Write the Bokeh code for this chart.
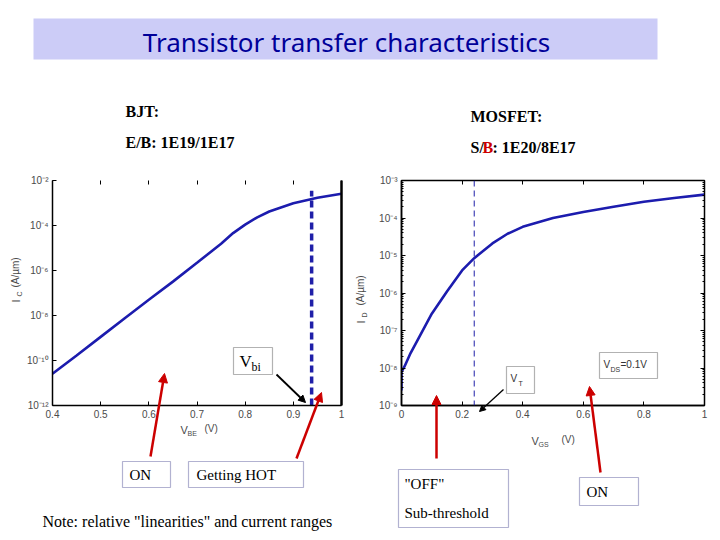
import math
from bokeh.plotting import figure
from bokeh.layouts import column, row
from bokeh.models import (Label, Arrow, NormalHead, FixedTicker, LogAxis, LinearAxis,
                          Range1d, BoxAnnotation, Span, GridBox)
from bokeh.embed import file_html
from bokeh.resources import INLINE

# ---------------- data ----------------
bjt_vbe = [0.40, 0.45, 0.50, 0.55, 0.60, 0.65, 0.70, 0.75, 0.775, 0.80, 0.825, 0.85,
           0.90, 0.95, 1.00]
bjt_ic = [2.57e-11, 1.66e-10, 1.12e-9, 7.6e-9, 5.0e-8, 3.2e-7, 2.2e-6, 1.55e-5, 4.6e-5,
          1.1e-4, 2.3e-4, 4.2e-4, 9.8e-4, 1.7e-3, 2.6e-3]
bjt_vbi = 0.938
bjt_vbi_span = [1e-12, 3.5e-3]

mos_vgs = [0.0, 0.0, 0.01, 0.03, 0.05, 0.10, 0.15, 0.20, 0.24, 0.30, 0.35, 0.40, 0.50,
           0.60, 0.70, 0.80, 0.90, 1.00]
mos_id = [2.5e-9, 7.9e-9, 1.1e-8, 2.5e-8, 5.0e-8, 2.8e-7, 1.1e-6, 4.0e-6, 8.5e-6, 2.1e-5,
          3.8e-5, 5.8e-5, 1.0e-4, 1.45e-4, 2.0e-4, 2.7e-4, 3.4e-4, 4.2e-4]
mos_vt = 0.24

bjt_xticks = [0.4, 0.5, 0.6, 0.7, 0.8, 0.9, 1.0]
bjt_xlabels = ["0.4", "0.5", "0.6", "0.7", "0.8", "0.9", "1"]
bjt_yticks = [1e-12, 1e-10, 1e-8, 1e-6, 1e-4, 1e-2]
bjt_ylabels = ["10⁻¹²", "10⁻¹⁰", "10⁻⁸", "10⁻⁶", "10⁻⁴", "10⁻²"]
mos_xticks = [0.0, 0.2, 0.4, 0.6, 0.8, 1.0]
mos_xlabels = ["0", "0.2", "0.4", "0.6", "0.8", "1"]
mos_yticks = [1e-9, 1e-8, 1e-7, 1e-6, 1e-5, 1e-4, 1e-3]
mos_ylabels = ["10⁻⁹", "10⁻⁸", "10⁻⁷", "10⁻⁶", "10⁻⁵", "10⁻⁴", "10⁻³"]

CURVE = "#1c1cae"
SERIF = "Liberation Serif"
SANS = "Liberation Sans"
TICKC = "#4a4a4a"
RED = "#cc0000"
NAVY = "#000066"


def style_axis(ax, size="10px"):
    ax.major_label_text_font = SANS
    ax.major_label_text_font_size = size
    ax.major_label_text_color = TICKC
    ax.axis_line_color = "black"
    ax.axis_line_width = 1.5
    ax.major_tick_in = 4
    ax.major_tick_out = 0
    ax.minor_tick_in = 0
    ax.minor_tick_out = 0
    ax.major_tick_line_color = "black"
    ax.major_label_standoff = 4


def blank_axis(ax, ticks):
    ax.major_label_overrides = {t: "" for t in ticks}
    ax.major_label_standoff = 0
    ax.major_tick_in = 4
    ax.major_tick_out = 0
    ax.minor_tick_out = 0


# ---------------- header ----------------
hdr = figure(width=720, height=165, x_range=Range1d(0, 720), y_range=Range1d(0, 165),
             output_backend="svg", toolbar_location=None, min_border=0,
             x_axis_location=None, y_axis_location=None, outline_line_color=None)
hdr.grid.visible = False
hdr.add_layout(BoxAnnotation(left=33, right=657, bottom=106, top=147,
                             fill_color="#ccccf7", fill_alpha=1, line_color=None))
hdr.add_layout(Label(x=346, y=124, text="Transistor transfer characteristics",
                     text_font="Noto Sans", text_font_size="26px", text_color="#000099",
                     text_align="center", text_baseline="middle"))
for (x, y, t, c) in [(125, 54, "BJT:", "black"), (125, 23, "E/B: 1E19/1E17", "black"),
                     (470, 49, "MOSFET:", "black"), (470, 18, "S/", "black"),
                     (482, 18, "B", RED), (492, 18, ": 1E20/8E17", "black")]:
    hdr.add_layout(Label(x=x, y=y, text=t, text_font=SERIF, text_font_size="16px",
                         text_font_style="bold", text_color=c, text_align="left",
                         text_baseline="middle"))

# ---------------- BJT plot ----------------
p1 = figure(width=355, height=375, y_axis_type="log", x_range=Range1d(0.4, 1.0),
            y_range=Range1d(1e-12, 1e-2), output_backend="svg", toolbar_location=None,
            min_border_left=52, min_border_right=14, min_border_top=15,
            min_border_bottom=135, outline_line_color=None)
p1.grid.visible = False
p1.xaxis.ticker = FixedTicker(ticks=bjt_xticks)
p1.xaxis.major_label_overrides = dict(zip(bjt_xticks, bjt_xlabels))
p1.yaxis.ticker = FixedTicker(ticks=bjt_yticks)
p1.yaxis.major_label_overrides = dict(zip(bjt_yticks, bjt_ylabels))
style_axis(p1.xaxis[0])
style_axis(p1.yaxis[0])
ra = LogAxis(ticker=FixedTicker(ticks=bjt_yticks))
blank_axis(ra, bjt_yticks)
ra.axis_line_width = 2.5
ra.major_tick_in = 0
p1.add_layout(ra, "right")
ta = LinearAxis(ticker=FixedTicker(ticks=bjt_xticks))
blank_axis(ta, bjt_xticks)
ta.axis_line_color = None
p1.add_layout(ta, "above")

p1.line(bjt_vbe, bjt_ic, line_color=CURVE, line_width=2.6)
p1.line([bjt_vbi, bjt_vbi], bjt_vbi_span, line_color="#1f1fa8", line_width=3.5,
        line_dash="7 4")

# ---------------- MOSFET plot ----------------
p2 = figure(width=365, height=375, y_axis_type="log", x_range=Range1d(0.0, 1.0),
            y_range=Range1d(1e-9, 1e-3), output_backend="svg", toolbar_location=None,
            min_border_left=46, min_border_right=16, min_border_top=15,
            min_border_bottom=122, outline_line_color="black", outline_line_width=1.5)
p2.grid.visible = False
minor = [m * 10.0 ** e for e in range(-9, -3) for m in range(2, 10)]
p2.xaxis.ticker = FixedTicker(ticks=mos_xticks)
p2.xaxis.major_label_overrides = dict(zip(mos_xticks, mos_xlabels))
p2.yaxis.ticker = FixedTicker(ticks=mos_yticks, minor_ticks=minor)
p2.yaxis.major_label_overrides = dict(zip(mos_yticks, mos_ylabels))
style_axis(p2.xaxis[0])
style_axis(p2.yaxis[0])
p2.yaxis.minor_tick_in = 2
ra2 = LogAxis(ticker=FixedTicker(ticks=mos_yticks, minor_ticks=minor))
blank_axis(ra2, mos_yticks)
ra2.minor_tick_in = 2
p2.add_layout(ra2, "right")
ta2 = LinearAxis(ticker=FixedTicker(ticks=mos_xticks))
blank_axis(ta2, mos_xticks)
p2.add_layout(ta2, "above")

p2.line(mos_vgs, mos_id, line_color=CURVE, line_width=2.6)
p2.add_layout(Span(location=mos_vt, dimension="height", line_color="#1f1fa8",
                   line_width=1, line_dash="6 4"))

# ---------------- transparent overlay for slide annotations ----------------
ov = figure(width=720, height=540, x_range=Range1d(0, 720), y_range=Range1d(0, 540),
            output_backend="svg", toolbar_location=None, min_border=0,
            x_axis_location=None, y_axis_location=None, outline_line_color=None,
            background_fill_color=None, border_fill_color=None)
ov.grid.visible = False


def lab(x, y, text, size="15px", font=SERIF, color="black", angle=0):
    ov.add_layout(Label(x=x, y=540 - y, text=text, text_font=font, text_font_size=size,
                        text_color=color, text_align="left", text_baseline="middle",
                        angle=angle))


def box(l, r, t, b, color=NAVY):
    ov.add_layout(BoxAnnotation(left=l, right=r, top=540 - t, bottom=540 - b,
                                fill_alpha=0, line_color=color, line_width=1.2))


def arrow(xs, ys, xe, ye, color, width, size):
    ov.add_layout(Arrow(x_start=xs, y_start=540 - ys, x_end=xe, y_end=540 - ye,
                        line_color=color, line_width=width,
                        end=NormalHead(size=size, fill_color=color, line_color=color)))


# BJT axis titles
lab(15, 302, "I", size="11px", font=SANS, color=TICKC, angle=math.pi / 2)
lab(19, 296, "C", size="7px", font=SANS, color=TICKC, angle=math.pi / 2)
lab(15, 287, "(A/µm)", size="10px", font=SANS, color=TICKC, angle=math.pi / 2)
lab(180, 429, "V", size="11px", font=SANS, color=TICKC)
lab(187, 433, "BE", size="7px", font=SANS, color=TICKC)
lab(204, 428, "(V)", size="10px", font=SANS, color=TICKC)

# BJT annotations
box(233, 272, 347, 374, color="black")
lab(239, 361, "V", size="17px")
lab(251, 366, "bi", size="12px")
arrow(276, 374, 305, 402, "black", 1.8, 7)
arrow(150, 456, 164, 373, RED, 2.5, 9)
arrow(296, 458, 321, 392, RED, 2.5, 9)
box(122, 170, 461, 487)
lab(129, 474, "ON")
box(188, 303, 461, 487)
lab(196, 474, "Getting HOT")
lab(42, 521, "Note: relative \"linearities\" and current ranges", size="16px")

# MOSFET axis titles
lab(360, 323, "I", size="11px", font=SANS, color=TICKC, angle=math.pi / 2)
lab(364, 317, "D", size="7px", font=SANS, color=TICKC, angle=math.pi / 2)
lab(360, 305, "(A/µm)", size="10px", font=SANS, color=TICKC, angle=math.pi / 2)
lab(531, 440, "V", size="11px", font=SANS, color=TICKC)
lab(538, 444, "GS", size="7px", font=SANS, color=TICKC)
lab(561, 439, "(V)", size="10px", font=SANS, color=TICKC)

# MOSFET annotations
box(506, 534, 366, 393, color="black")
lab(510, 378, "V", size="10px", font=SANS, color="#333333")
lab(518, 383, "T", size="7px", font=SANS, color="#333333")
box(599, 657, 352, 378, color="black")
lab(603, 364, "V", size="10px", font=SANS, color="#333333")
lab(610, 369, "DS", size="7px", font=SANS, color="#333333")
lab(620, 364, "=0.1V", size="10px", font=SANS, color="#333333")
arrow(503, 389, 479, 411, "black", 1.3, 6)
arrow(436, 458, 436, 395, RED, 2.5, 9)
arrow(600, 472, 589, 386, RED, 2.5, 9)
box(398, 508, 469, 527)
lab(404, 483, "\"OFF\"")
lab(404, 512, "Sub-threshold")
box(579, 638, 477, 505)
lab(586, 491, "ON")

base = column(hdr, row(p1, p2))
layout = GridBox(children=[(base, 0, 0), (ov, 0, 0)], spacing=0)
open("out.html", "w").write(file_html(layout, INLINE))
